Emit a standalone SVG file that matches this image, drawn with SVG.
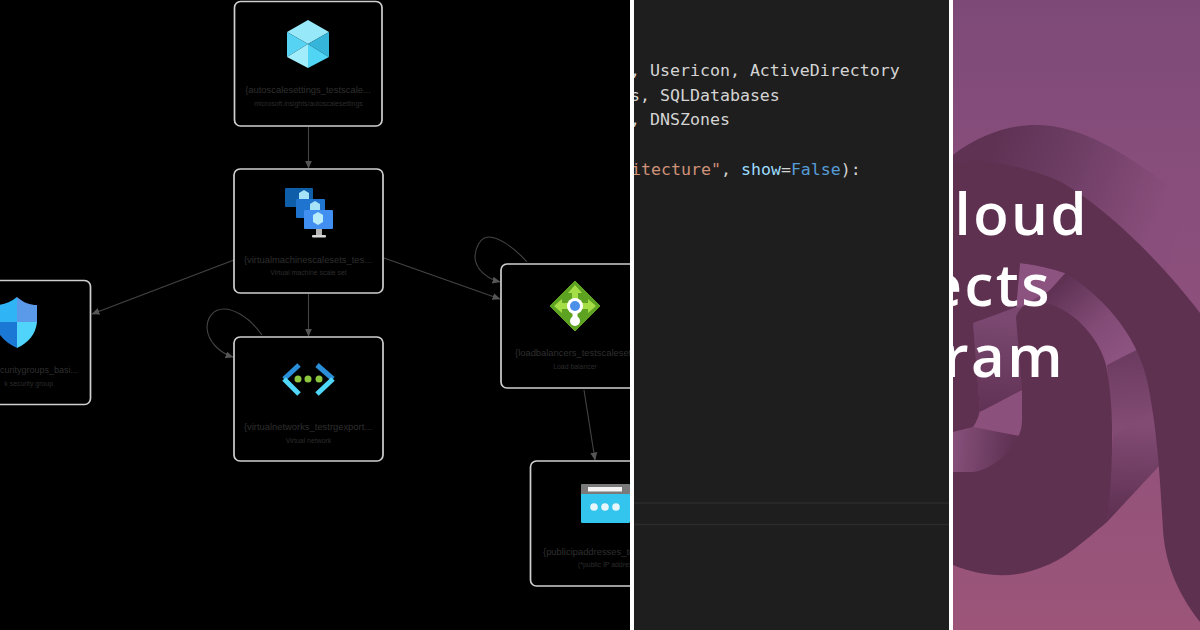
<svg xmlns="http://www.w3.org/2000/svg" width="1200" height="630" viewBox="0 0 1200 630">
<defs>
<style>
.node{fill:#000;stroke:#cfcfcf;stroke-width:1.7}
.t{font-family:"Liberation Sans",Arial,sans-serif;font-size:9.4px;fill:#2f2f2f}
.s{font-family:"Liberation Sans",Arial,sans-serif;font-size:6.9px;fill:#2c2c2c}
.m{text-anchor:middle}
.edge{fill:none;stroke:#444;stroke-width:1.1;marker-end:url(#arrow)}
.code{font-family:"DejaVu Sans Mono","Liberation Mono",monospace;font-size:16.6px;fill:#d4d4d4}
.big{font-family:"Open Sans",Lato,sans-serif;font-size:58px;font-weight:600;fill:#fff;text-anchor:end;letter-spacing:2.5px}
.dark{fill:#5f3150}
</style>
<marker id="arrow" markerWidth="9" markerHeight="9" refX="7.500" refY="4" orient="auto" markerUnits="userSpaceOnUse"><path d="M0,0.500L8,4L0,7.500Z" fill="#555"/></marker>
<clipPath id="left"><rect x="0" y="0" width="630" height="630"/></clipPath>
<clipPath id="code"><rect x="634" y="0" width="315" height="630"/></clipPath>
<clipPath id="purple"><rect x="953" y="0" width="247" height="630"/></clipPath>
<linearGradient id="bg" x1="0" y1="0" x2="0" y2="1"><stop offset="0" stop-color="#7d4a78"/><stop offset=".33" stop-color="#8a4e7c"/><stop offset=".5" stop-color="#8d507c"/><stop offset="1" stop-color="#9c5579"/></linearGradient>
<linearGradient id="arc" gradientUnits="userSpaceOnUse" x1="1000" y1="130" x2="1165" y2="200"><stop offset="0" stop-color="#5f3254"/><stop offset=".45" stop-color="#6e3e65"/><stop offset="1" stop-color="#894e7b"/></linearGradient>
<linearGradient id="rb" gradientUnits="userSpaceOnUse" x1="1062" y1="282" x2="1122" y2="352"><stop offset="0" stop-color="#5f3254"/><stop offset=".6" stop-color="#824b76"/><stop offset="1" stop-color="#8c5280"/></linearGradient>
<linearGradient id="rc" gradientUnits="userSpaceOnUse" x1="1125" y1="355" x2="1130" y2="425"><stop offset="0" stop-color="#6c3b60"/><stop offset="1" stop-color="#824b74"/></linearGradient>
<linearGradient id="rd" gradientUnits="userSpaceOnUse" x1="1130" y1="425" x2="1125" y2="515"><stop offset="0" stop-color="#824b74"/><stop offset="1" stop-color="#5f3153"/></linearGradient>
<linearGradient id="rs" gradientUnits="userSpaceOnUse" x1="995" y1="320" x2="985" y2="415"><stop offset="0" stop-color="#7a4870"/><stop offset="1" stop-color="#5f3153"/></linearGradient>
<linearGradient id="rl" gradientUnits="userSpaceOnUse" x1="953" y1="450" x2="1012" y2="455"><stop offset="0" stop-color="#86507a"/><stop offset="1" stop-color="#5f3153"/></linearGradient>
</defs>

<rect x="0" y="0" width="1200" height="630" fill="#fff"/>
<rect x="0" y="0" width="630" height="630" fill="#000"/>

<g clip-path="url(#left)">
<g id="connectors">
<path class="edge" d="M308.500,127V168"/>
<path class="edge" d="M308.500,294V336"/>
<path class="edge" d="M234,260L92,314"/>
<path class="edge" d="M384,258L500,299"/>
<path class="edge" d="M262,335C248,315 232,309 224,309C212,309 207,319 207,328C208,342 220,353 233,357"/>
<path class="edge" d="M527,262C512,245 497,237 489,237C480,237 475,248 475,258C476,270 488,279 500,282"/>
<path class="edge" d="M584,390L595,460"/>
</g>

<g id="node-autoscale">
<rect class="node" x="234.500" y="1.500" width="147.500" height="124.500" rx="6"/>
<path d="M308,20L329,32L308,44L287,32Z" fill="#97e9f9"/>
<path d="M287,32L308,44L287,57Z" fill="#56d3f3"/>
<path d="M329,32L329,57L308,44Z" fill="#35b5d9"/>
<path d="M287,57L308,44L308,68Z" fill="#a2edfc"/>
<path d="M329,57L308,44L308,68Z" fill="#50d5f4"/>
<text class="t m" x="308" y="93">{autoscalesettings_testscale...</text>
<text class="s m" x="308.500" y="106">microsoft.insights/autoscalesettings</text>
</g>

<g id="node-vmss">
<rect class="node" x="234" y="169" width="149" height="124" rx="6"/>
<rect x="285" y="188" width="28" height="19" rx="1" fill="#0f5ea9"/>
<path d="M299,193L304,190L309,193V199L304,202L299,199Z" fill="#a7e3f8"/>
<rect x="296" y="199" width="29" height="19" rx="1" fill="#1f74d0"/>
<path d="M310,204L315,201L320,204V210L315,213L310,210Z" fill="#a7e3f8"/>
<rect x="304" y="210" width="29" height="19" rx="1" fill="#418ff0"/>
<path d="M313,215L318,212L323,215V222L318,225L313,222Z" fill="#b9ecfb"/>
<rect x="316" y="229" width="6" height="6" fill="#b5b5b5"/>
<rect x="312" y="235" width="14" height="2.500" rx="1" fill="#d8d8d8"/>
<text class="t m" x="308" y="263">{virtualmachinescalesets_tes...</text>
<text class="s m" x="308.500" y="275">Virtual machine scale set</text>
</g>

<g id="node-nsg">
<rect class="node" x="-59" y="280.500" width="149.500" height="124" rx="6"/>
<path d="M17,297C10,303 2,305 -5,305V322L17,322Z" fill="#2fb5f6"/>
<path d="M17,297C24,303 30,305 37,305V322H17Z" fill="#5b9ae8"/>
<path d="M-5,322C-4,334 6,343 17,348V322Z" fill="#1c78d5"/>
<path d="M37,322C36,334 28,343 17,348V322Z" fill="#50d4fc"/>
<text class="t" x="78" y="373" text-anchor="end" style="font-size:9px">curitygroups_basi...</text>
<text class="s" x="53" y="386" text-anchor="end">k security group</text>
</g>

<g id="node-vnet">
<rect class="node" x="234" y="337" width="149" height="124" rx="6"/>
<path d="M299,365L284,379" fill="none" stroke="#2a8fd8" stroke-width="5"/>
<path d="M284,379L299,394" fill="none" stroke="#50d8fb" stroke-width="5"/>
<path d="M317,365L333,379" fill="none" stroke="#2a8fd8" stroke-width="5"/>
<path d="M333,379L317,394" fill="none" stroke="#50d8fb" stroke-width="5"/>
<circle cx="298" cy="379" r="3.500" fill="#8cc63f"/><circle cx="308" cy="379" r="3.500" fill="#8cc63f"/><circle cx="319" cy="379" r="3.500" fill="#8cc63f"/>
<text class="t m" x="308" y="430">{virtualnetworks_testrgexport...</text>
<text class="s m" x="308.500" y="443">Virtual network</text>
</g>

<g id="node-lb">
<rect class="node" x="501" y="264" width="160" height="124" rx="6"/>
<path d="M575,281L600,306L575,331L550,306Z" fill="#5ea221" stroke="#5ea221" stroke-width="1" stroke-linejoin="round"/>
<path d="M575,285L582,293H578V303H572V293H568Z M596,306L588,313V309H578V303H588V299Z M554,306L562,299V303H572V309H562V313Z" fill="#a6de47"/>
<rect x="572.500" y="306" width="5" height="12" fill="#fff"/>
<circle cx="575" cy="306" r="8" fill="#fff"/><circle cx="575" cy="306" r="5" fill="#4a8fe8"/>
<circle cx="575" cy="321" r="5" fill="#fff"/>
<text class="t" x="515" y="356">{loadbalancers_testscaleset</text>
<text class="s m" x="575" y="369">Load balancer</text>
</g>

<g id="node-pip">
<rect class="node" x="530.500" y="461" width="160" height="125" rx="6"/>
<rect x="581" y="484" width="49" height="39" rx="1.500" fill="#33c5ee"/>
<path d="M581,494V485.500Q581,484 582.500,484H628.500Q630,484 630,485.500V494Z" fill="#7a7a7a"/>
<rect x="588" y="487" width="34" height="4.500" fill="#f4f4f4"/>
<circle cx="594" cy="507" r="3.800" fill="#e6f6fb"/><circle cx="605" cy="507" r="3.800" fill="#e6f6fb"/><circle cx="616" cy="507" r="3.800" fill="#e6f6fb"/>
<text class="t" x="543" y="555">{publicipaddresses_te</text>
<text class="s" x="578" y="567">(*public IP address</text>
</g>
</g>

<rect x="634" y="0" width="315" height="630" fill="#1e1e1e"/>
<g clip-path="url(#code)">
<path d="M634,503H949M634,524.500H949" stroke="#2b2b2b" stroke-width="1.500" fill="none"/>
<text class="code" x="630" y="76">, Usericon, ActiveDirectory</text>
<text class="code" x="630" y="101">s, SQLDatabases</text>
<text class="code" x="630" y="125">, DNSZones</text>
<text class="code" x="631" y="174.500"><tspan fill="#ce9178">itecture"</tspan>, <tspan fill="#9cdcfe">show</tspan>=<tspan fill="#569cd6">False</tspan>):</text>
</g>

<g clip-path="url(#purple)">
<rect x="953" y="0" width="247" height="630" fill="url(#bg)"/>
<path d="M953,155C980,134 1010,125 1035,125C1085,125 1125,155 1170,186L1185,210L1150,320H953Z" fill="url(#arc)"/>
<path d="M1020,263Q1045,266 1068,274L1050,290L1016,310Z" fill="#8c5280"/>
<path d="M1068,270L1150,345L1107,368L1080,330L1040,298L1050,290Z" fill="url(#rb)"/>
<path d="M1150,343L1107,365L1113,437L1160,410Z" fill="url(#rc)"/>
<path d="M1160,409L1113,436L1107,522L1160,465Z" fill="url(#rd)"/>
<path d="M973,323L1016,307L1030,310L1030,390L980,412Z" fill="url(#rs)"/>
<path d="M980,412L1022,390L1022,437L973,427Z" fill="#8c507c"/>
<path d="M953,432L973,427L1025,437L1025,475H953Z" fill="url(#rl)"/>
<path class="dark" d="M953,163C985,158 1020,165 1057,180C1100,202 1160,260 1200,313V622C1175,590 1165,560 1163,530C1160,480 1158,440 1150,395C1143,350 1120,310 1068,274Q1045,266 1020,263L1016,307L973,323L980,410Q978,420 973,427L953,432Z"/>
<path class="dark" d="M1016,317C1020,305 1030,302 1046,303C1075,310 1100,340 1106,365C1113,400 1115,450 1107,522C1085,540 1065,560 1040,568C1015,578 985,578 953,565V472H973C990,470 1010,455 1018,437Q1022,430 1022,420V390Z"/>
<text class="big" x="1089" y="235">loud</text>
<text class="big" x="1052" y="306">ects</text>
<text class="big" x="1065" y="377">ram</text>
</g>
</svg>
